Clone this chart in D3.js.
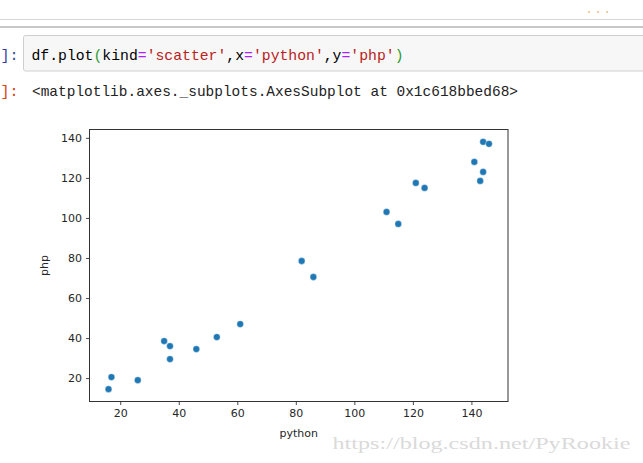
<!DOCTYPE html>
<html>
<head>
<meta charset="utf-8">
<script src="https://cdn.jsdelivr.net/npm/d3@7"></script>
<style>
  html, body { margin: 0; padding: 0; background: #fff; overflow: hidden; }
  svg { display: block; }
</style>
</head>
<body>
<svg id="chart" width="643" height="463"></svg>
<script>
// ---- data ----
const python = [16, 17, 26, 35, 37, 37, 46, 53, 61, 82, 86, 111, 115, 121, 124, 141, 144, 143, 144, 146];
const php    = [14.5, 20.5, 19, 38.5, 36, 29.5, 34.5, 40.5, 47, 78.5, 70.5, 103, 97, 117.5, 115, 128, 123, 118.5, 138, 137];
const xTicks = [20, 40, 60, 80, 100, 120, 140];
const yTicks = [20, 40, 60, 80, 100, 120, 140];
const xLabel = "python";
const yLabel = "php";
const codeTokens = [
  ["df.plot", "#000"], ["(", "#2e9c2e"], ["kind", "#000"], ["=", "#aa22ff"], ["'scatter'", "#ba2121"],
  [",", "#000"], ["x", "#000"], ["=", "#aa22ff"], ["'python'", "#ba2121"], [",", "#000"],
  ["y", "#000"], ["=", "#aa22ff"], ["'php'", "#ba2121"], [")", "#2e9c2e"]
];
const outText = "<matplotlib.axes._subplots.AxesSubplot at 0x1c618bbed68>";
const watermark = "https://blog.csdn.net/PyRookie";

const svg = d3.select("#chart");

// ---- notebook chrome ----
svg.append("line").attr("x1", 0).attr("x2", 643).attr("y1", 19.5).attr("y2", 19.5)
  .attr("stroke", "#d6d6d6").attr("stroke-width", 1);
svg.append("line").attr("x1", 0).attr("x2", 643).attr("y1", 27).attr("y2", 27)
  .attr("stroke", "#b4b4b4").attr("stroke-width", 1.5);
[589, 598, 607].forEach(cx => svg.append("rect").attr("x", cx - 0.7).attr("y", 11.3)
  .attr("width", 1.4).attr("height", 1.4).attr("fill", "#e0a040"));

svg.append("rect").attr("x", 23.5).attr("y", 35.5).attr("width", 640).attr("height", 35.5)
  .attr("rx", 2).attr("fill", "#f7f7f7").attr("stroke", "#cfcfcf").attr("stroke-width", 1);

const mono = "'Liberation Mono', 'DejaVu Sans Mono', monospace";
svg.append("text").attr("x", 0.5).attr("y", 59.5)
  .attr("font-family", mono).attr("font-size", 15).attr("fill", "#303f9f").text("]:");
svg.append("text").attr("x", 0.5).attr("y", 96)
  .attr("font-family", mono).attr("font-size", 15).attr("fill", "#d84315").text("]:");

const code = svg.append("text").attr("x", 31.5).attr("y", 59.5)
  .attr("font-family", mono).attr("font-size", 15)
  .attr("textLength", 372).attr("lengthAdjust", "spacingAndGlyphs");
codeTokens.forEach(([t, c]) => code.append("tspan").attr("fill", c).text(t));

svg.append("text").attr("x", 32).attr("y", 96)
  .attr("font-family", mono).attr("font-size", 15).attr("fill", "#222")
  .attr("textLength", 486).attr("lengthAdjust", "spacingAndGlyphs").text(outText);

// ---- chart ----
const L = 89.5, R = 508, T = 129.5, B = 401.5;
const xr = d3.extent(python), yr = d3.extent(php);
const xm = (xr[1] - xr[0]) * 0.05, ym = (yr[1] - yr[0]) * 0.05;
const x = d3.scaleLinear().domain([xr[0] - xm, xr[1] + xm]).range([L, R]);
const y = d3.scaleLinear().domain([yr[0] - ym, yr[1] + ym]).range([B, T]);

const font = "'DejaVu Sans', sans-serif";

const gx = svg.append("g").attr("transform", `translate(0,${B})`)
  .call(d3.axisBottom(x).tickValues(xTicks).tickSize(3.5).tickPadding(4).tickSizeOuter(0));
const gy = svg.append("g").attr("transform", `translate(${L},0)`)
  .call(d3.axisLeft(y).tickValues(yTicks).tickSize(3.5).tickPadding(4).tickSizeOuter(0));
[gx, gy].forEach(g => {
  g.select(".domain").remove();
  g.selectAll("line").attr("stroke", "#333").attr("stroke-width", 0.9);
  g.selectAll("text").attr("font-family", font).attr("font-size", 11).attr("fill", "#262626");
});

svg.append("g").selectAll("circle")
  .data(python.map((v, i) => [v, php[i]]))
  .join("circle")
  .attr("cx", d => x(d[0])).attr("cy", d => y(d[1])).attr("r", 3.4)
  .attr("fill", "#1f77b4").attr("stroke", "#fff").attr("stroke-width", 0.4);

svg.append("rect").attr("x", L).attr("y", T).attr("width", R - L).attr("height", B - T)
  .attr("fill", "none").attr("stroke", "#333").attr("stroke-width", 1);

svg.append("text").attr("x", (L + R) / 2).attr("y", 436.5).attr("text-anchor", "middle")
  .attr("font-family", font).attr("font-size", 11).attr("fill", "#262626").text(xLabel);
svg.append("text").attr("transform", `translate(48,${(T + B) / 2}) rotate(-90)`)
  .attr("text-anchor", "middle")
  .attr("font-family", font).attr("font-size", 11).attr("fill", "#262626").text(yLabel);

svg.append("text").attr("x", 332.5).attr("y", 448.5)
  .attr("font-family", "'Liberation Serif', serif").attr("font-size", 17).attr("fill", "#dadada")
  .attr("textLength", 298).attr("lengthAdjust", "spacingAndGlyphs").text(watermark);
</script>
</body>
</html>
